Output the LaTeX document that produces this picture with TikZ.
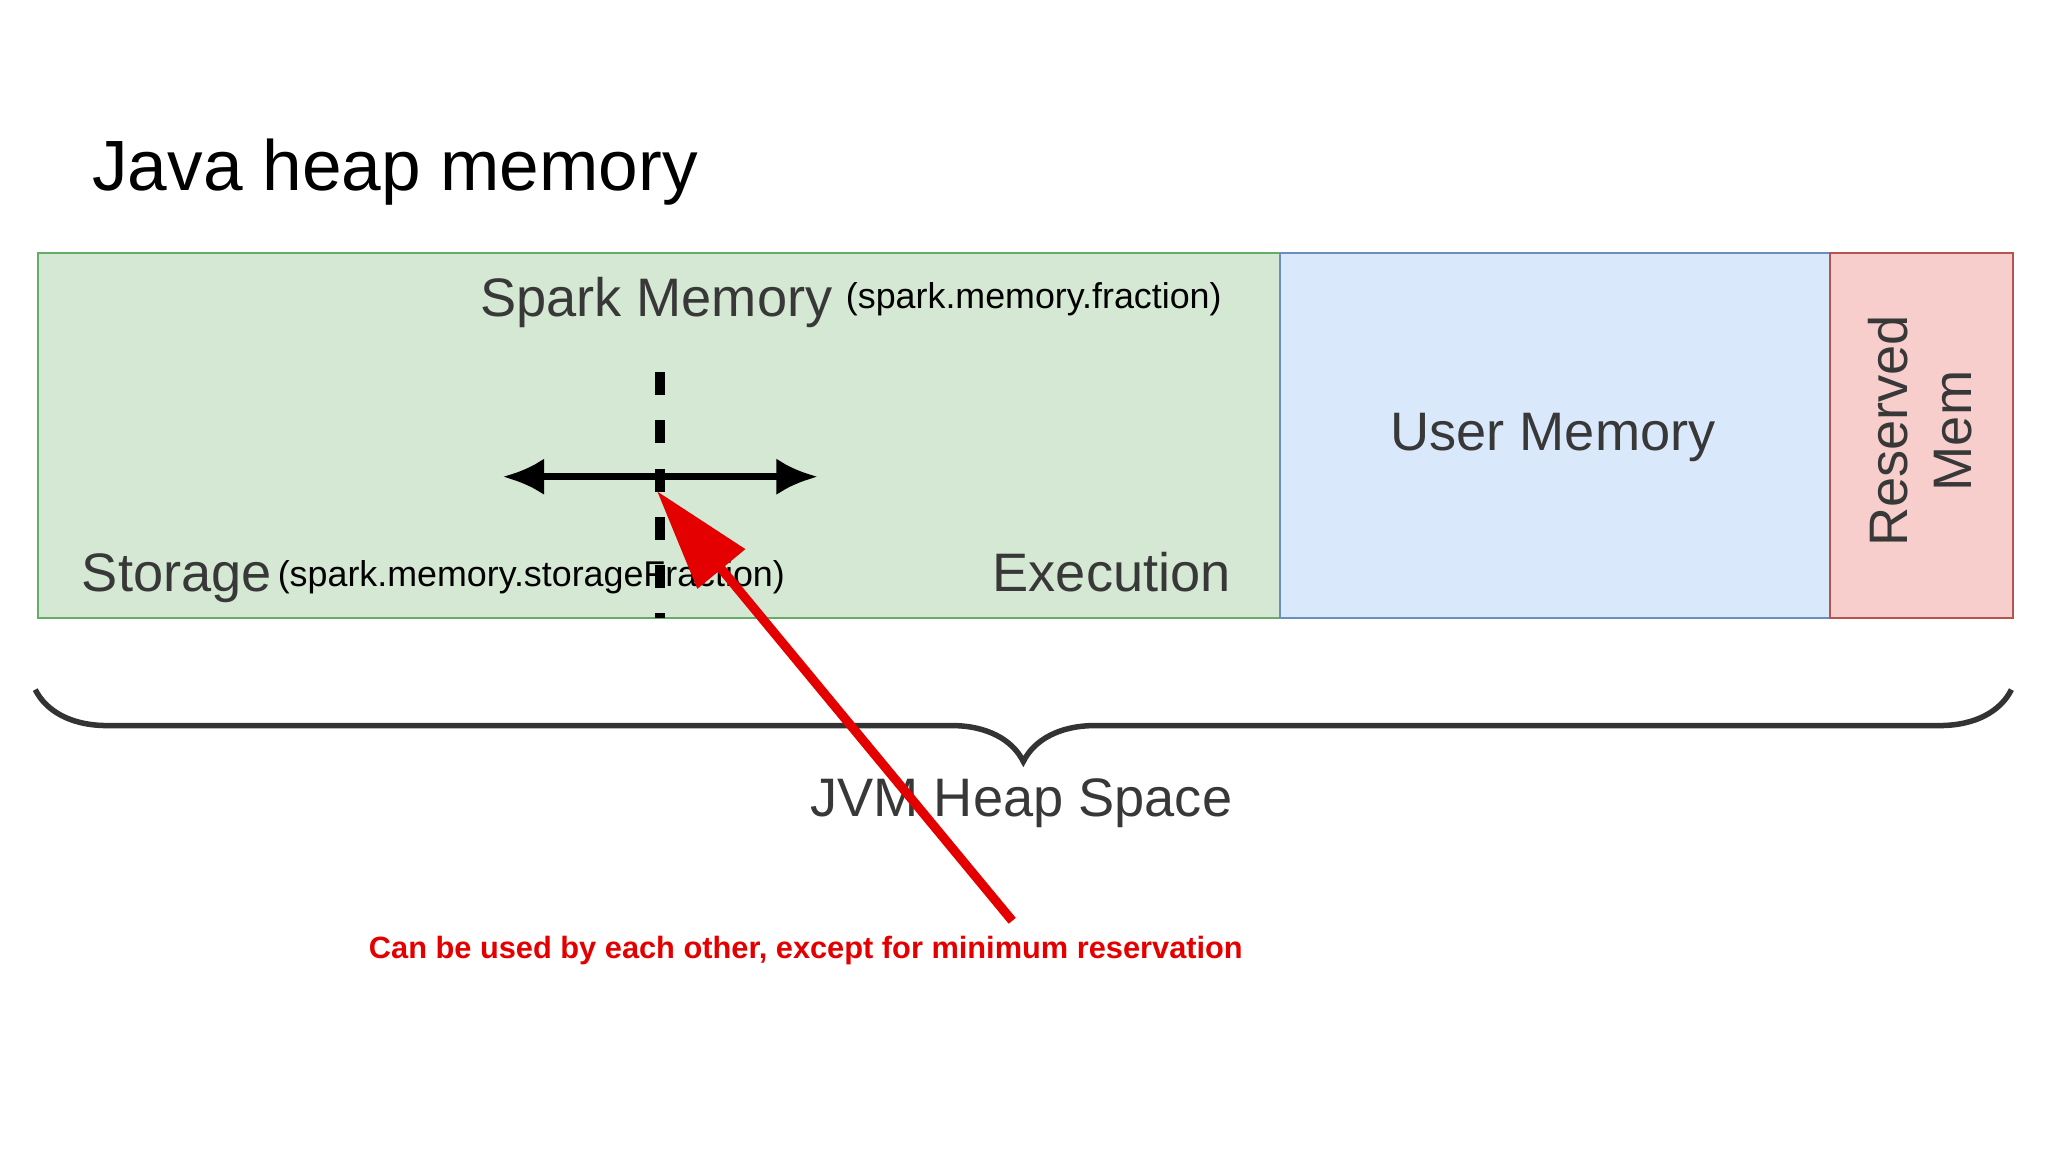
\documentclass[tikz,border=0pt]{standalone}
\usepackage{fontspec}
\setmainfont{Liberation Sans}
\usetikzlibrary{decorations.pathreplacing,arrows.meta}
\begin{document}
\begin{tikzpicture}[x=0.01cm,y=-0.01cm,
  lbl/.style={inner sep=0pt,text=black!78,font=\fontsize{11.8}{14}\selectfont},
  small/.style={inner sep=0pt,font=\fontsize{7.8}{9}\selectfont}]
\useasboundingbox (0,0) rectangle (1568,882);
\node[anchor=base west,inner sep=0pt,font=\fontsize{15.5}{18}\selectfont] (title) at (70,146) {Java heap memory};
\draw[draw=green!45!black!60,fill={rgb,255:red,213;green,232;blue,212}] (29,194) rectangle (980,473);
\draw[draw={rgb,255:red,108;green,142;blue,191},fill={rgb,255:red,218;green,232;blue,252}] (980,194) rectangle (1401,473);
\draw[draw={rgb,255:red,184;green,84;blue,80},fill={rgb,255:red,248;green,206;blue,204}] (1401,194) rectangle (1541,473);
\node[lbl,anchor=base east] (spark) at (638,242) {Spark Memory};
\node[small,anchor=base west] (frac) at (647,236) {(spark.memory.fraction)};
\node[lbl,anchor=base west] (stor) at (62,453) {Storage};
\node[small,anchor=base west] (sfrac) at (212,449) {(spark.memory.storageFraction)};
\node[lbl,anchor=base east] (exec) at (943,453) {Execution};
\node[lbl] (user) at (1189,335) {User Memory};
\node[lbl,rotate=90,align=center] (res) at (1470,330) {Reserved\\Mem};
\coordinate (dtop) at (505,285); \coordinate (dbot) at (505,473);
\draw[line width=2.2pt,dash pattern=on 5pt off 5.5pt] (dtop) -- (dbot);
\coordinate (al) at (385,365); \coordinate (ar) at (626,365);
\draw[line width=1.6pt,{Latex[length=9pt,width=8pt]}-{Latex[length=9pt,width=8pt]}] (al) -- (ar);
\coordinate (bl) at (27,528); \coordinate (br) at (1540,528);
\draw[line width=1.2pt,black!80,decorate,decoration={brace,mirror,amplitude=0.55cm}] (bl) -- (br);
\node[lbl] (jvm) at (782,615) {JVM Heap Space};
\coordinate (rs) at (775,705); \coordinate (rt) at (503,376);
\draw[red!90!black,line width=2pt,-{Triangle[length=22pt,width=13pt]}] (rs) -- (rt);
\node[inner sep=0pt,text=red!90!black,font=\bfseries\fontsize{6.7}{8}\selectfont] (note) at (617,728) {Can be used by each other, except for minimum reservation};
\end{tikzpicture}
\end{document}
